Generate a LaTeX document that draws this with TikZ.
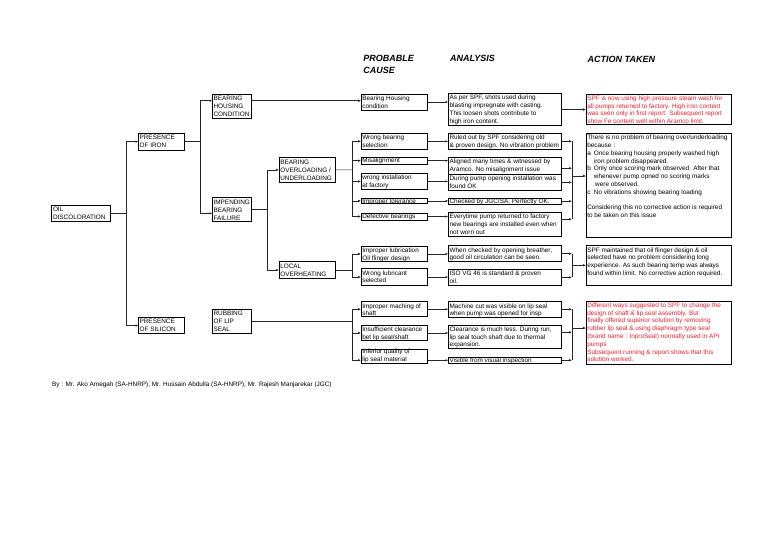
\documentclass[tikz,border=0pt]{standalone}
\usepackage{fontspec}
\setmainfont{Liberation Sans}
\usetikzlibrary{arrows.meta}
\definecolor{redtxt}{RGB}{236,30,45}
\tikzset{
  boxst/.style={draw=black, line width=0.8pt, inner sep=0pt, outer sep=0pt},
  txtst/.style={inner sep=0pt, outer sep=0pt, align=left, anchor=north west,
    font=\fontsize{6.4}{7.8}\selectfont},
  treetxt/.style={font=\fontsize{6.4}{8.1}\selectfont},
  thin/.style={yshift=0.8pt},
  conn/.style={line width=0.7pt, draw=black!85},
  arr/.style={conn, -{Latex[length=2.8pt,width=2.4pt]}},
  head/.style={inner sep=0pt, outer sep=0pt, align=left,
    font=\fontsize{9}{12.4}\selectfont\bfseries\itshape},
}
\newcommand\fst{\rule{0pt}{5pt}}
% #1 text options, #2 name, #3 x1, #4 y1, #5 x2, #6 y2, #7 text
\newcommand\bx[7][]{%
  \node[boxst, minimum width={#5-#3}, minimum height={#6-#4}, anchor=north west] (#2) at (#3,-#4) {};
  \node[txtst,#1] (#2t) at ([xshift=1.3pt,yshift=-1.3pt]#2.north west) {\fst#7};
}
\begin{document}
\begin{tikzpicture}[x=1pt,y=1pt]
\useasboundingbox (0,0) rectangle (768,-543);

% headers
\node[head, anchor=north west] (hcause) at (363.3,-55.3) {PROBABLE\\CAUSE};
\node[head, anchor=base west] (hanal) at (450,-61.8) {ANALYSIS};
\node[head, anchor=base west] (hact) at (587.7,-62.3) {ACTION TAKEN};

% tree boxes
\bx[treetxt]{oil}{51.7}{205}{110}{221.3}{OIL\\DISCOLORATION}
\bx[treetxt]{iron}{138.3}{133.3}{184.3}{150}{PRESENCE\\OF IRON}
\bx[treetxt]{housing}{212.3}{94}{251.7}{118.7}{BEARING\\HOUSING\\CONDITION}
\bx[treetxt]{impend}{212.3}{197.7}{251.7}{221.7}{IMPENDING\\BEARING\\FAILURE}
\bx[treetxt]{overl}{279}{157.7}{335.7}{182}{BEARING\\OVERLOADING /\\UNDERLOADING}
\bx[treetxt]{lovh}{279}{261.7}{335.7}{278.3}{LOCAL\\OVERHEATING}
\bx[treetxt]{silicon}{138.3}{317.3}{184.3}{333.7}{PRESENCE\\OF SILICON}
\bx[treetxt]{rubbing}{212.3}{309.3}{251.7}{333.7}{RUBBING\\OF LIP\\SEAL}

% probable causes
\bx{c1}{361}{94}{427.7}{110}{Bearing Housing\\condition}
\bx{c2}{361}{133.5}{427.7}{149.2}{Wrong bearing\\selection}
\bx[thin]{c3}{361}{157.3}{427.7}{164}{Misalignment}
\bx{c4}{361}{173.3}{427.7}{189.5}{wrong installation\\at factory}
\bx[thin]{c5}{361}{198}{427.7}{203.8}{Improper tolerance}
\bx[thin]{c6}{361}{213}{427.7}{220}{Defective bearings}
\bx{c7}{361}{246}{427.7}{261.8}{Improper lubrication\\Oil flinger design}
\bx{c8}{361}{268.8}{427.7}{285.3}{Wrong lubricant\\selected}
\bx{c9}{361}{301.7}{427.7}{316.8}{Improper maching of\\shaft}
\bx{c10}{361}{325.6}{427.7}{340.3}{Insufficient clearance\\bet lip seal/shaft}
\bx[yshift=1.8pt]{c11}{361}{349.3}{427.7}{363.5}{Inferior quality of\\lip seal material}

% analysis
\bx{a1}{448.3}{93.5}{561.5}{125.7}{As per SPF, shots used during\\blasting impregnate with casting.\\This loosen shots contribute to\\high iron content.}
\bx{a2}{448.3}{133.3}{561.5}{149.3}{Ruled out by SPF considering old\\\& proven design. No vibration problem}
\bx{a3}{448.3}{157.5}{561.5}{174}{Aligned many times \& witnessed by\\Aramco. No misalignment issue}
\bx{a4}{448.3}{174.3}{561.5}{190.5}{During pump opening installation was\\found OK}
\bx[thin]{a5}{448.3}{198}{561.5}{204.5}{Checked by JGC/SA. Perfectly OK.}
\bx{a6}{448.3}{212.5}{561.5}{236.7}{Everytime pump returned to factory\\new bearings are installed even when\\not worn out}
\bx{a7}{448.3}{245.7}{561.5}{261.7}{When checked by opening breather,\\good oil circulation can be seen.}
\bx{a8}{448.3}{269}{561.5}{285.7}{ISO VG 46 is standard \& proven\\oil.}
\bx{a9}{448.3}{301.7}{561.5}{317}{Machine cut was visible on lip seal\\when pump was opened for insp}
\bx{a10}{448.3}{325}{561.5}{348.3}{Clearance is much less. During run,\\lip seal touch shaft due to thermal\\expansion.}
\bx[thin]{a11}{448.3}{357}{561.5}{363.5}{Visible from visual inspection}

% actions
\bx[text=redtxt]{act1}{586}{94}{731.5}{124.3}{SPF is now using high pressure steam wash for\\all pumps returned to factory. High iron content\\was seen only in first report. Subsequent report\\show Fe content well within Aramco limit.}
\bx{act2}{586}{133.3}{731.5}{237.3}{There is no problem of bearing over/underloading\\because :\\\makebox[6.6pt][l]{a}Once bearing housing properly washed high\\\hspace*{6.6pt}iron problem disappeared.\\\makebox[6.6pt][l]{b}Only once scoring mark observed. After that\\\hspace*{6.6pt}whenever pump opned no scoring marks\\\hspace*{7.9pt}were observed.\\\makebox[6.6pt][l]{c}No vibrations showing bearing loading\\[7.8pt]Considering this no corrective action is required\\to be taken on this issue}
\bx{act3}{586}{245.7}{731.5}{285}{SPF maintained that oil flinger design \& oil\\selected have no problem considering long\\experience. As such bearing temp was always\\found within limit. No corrective action required.}
\bx[text=redtxt]{act4}{586}{301}{731.5}{364.3}{Different ways suggested to SPF to change the\\design of shaft \& lip seal assembly. But\\finally offered superior solution by removing\\rubber lip seal \& using diaphragm type seal\\(brand name : InproSeal) normally used in API\\pumps\\Subsequent running \& report shows that this\\solution worked.}

% credit
\node[inner sep=0pt, anchor=base west, font=\fontsize{6.4}{7.8}\selectfont] (credit) at (52,-386) {By : Mr. Ako Amegah (SA-HNRP), Mr. Hussain Abdulla (SA-HNRP), Mr. Rajesh Manjarekar (JGC)};

% ---- left tree connectors
\coordinate (j1) at (126.7,-213.15);
\draw[conn] (oil.east) -- (j1);
\draw[arr] (j1) |- (iron.west);
\draw[arr] (j1) |- (silicon.west);

\coordinate (j2) at (200,-141.65);
\draw[conn] (iron.east) -- (j2);
\coordinate (hh) at ([yshift=5.6pt]housing.east);
\coordinate (hi) at ([yshift=-3.6pt]impend.west);
\draw[arr] (j2) |- (hh -| housing.west);
\draw[arr] (j2) |- (hi);

\coordinate (j3) at (267.7,-209.7);
\draw[conn] (impend.east) -- (j3);
\draw[arr] (j3) |- (overl.west);
\draw[arr] (j3) |- (lovh.west);

\draw[arr] (hh) -- (hh -| c1.west);

\coordinate (j4) at (352.3,-169.85);
\draw[conn] (overl.east) -- (j4);
\foreach \n in {c2,c3,c4,c5,c6} \draw[arr] (j4) |- (\n.west);

\coordinate (j5) at (352.3,-270);
\draw[conn] (lovh.east) -- (j5);
\draw[arr] (j5) |- (c7.west);
\draw[arr] (j5) |- (c8.west);

\coordinate (j6) at (352.3,-321.5);
\draw[conn] (rubbing.east) -- (j6);
\draw[arr] (j6) |- (c9.west);
\draw[arr] (j6) |- (c10.west);
\draw[arr] (j6) |- (c11.west |- a11.west);

% ---- cause -> analysis
\foreach \i in {1,...,10} \draw[arr] (c\i.east) -- (c\i.east -| a\i.west);
\draw[arr] (c11.east |- a11.west) -- (a11.west);

% ---- analysis -> action
\draw[arr] (a1.east) -- (a1.east -| act1.west);

\coordinate (k1) at (572,-141.3);
\coordinate (p3) at ([yshift=-2.5pt]a3.east);
\coordinate (p6) at ([yshift=5.3pt]a6.east);
\coordinate (q2) at ([yshift=9.3pt]act2.west);
\draw[conn] (a2.east -| k1) -- (p6 -| k1);
\draw[arr] (a2.east) -- (a2.east -| k1);
\draw[arr] (p3) -- (p3 -| k1);
\draw[arr] (a4.east) -- (a4.east -| k1);
\draw[arr] (a5.east) -- (a5.east -| k1);
\draw[arr] (p6) -- (p6 -| k1);
\draw[arr] (q2 -| k1) -- (q2);

\draw[conn] (a7.east -| k1) -- (a8.east -| k1);
\draw[arr] (a7.east) -- (a7.east -| k1);
\draw[arr] (a8.east) -- (a8.east -| k1);
\draw[arr] (act3.west -| k1) -- (act3.west);

\coordinate (p10) at ([yshift=4.3pt]a10.east);
\coordinate (q4) at ([yshift=4.6pt]act4.west);
\draw[conn] (a9.east -| k1) -- (a11.east -| k1);
\draw[arr] (a9.east) -- (a9.east -| k1);
\draw[arr] (p10) -- (p10 -| k1);
\draw[arr] (a11.east) -- (a11.east -| k1);
\draw[arr] (q4 -| k1) -- (q4);
\end{tikzpicture}
\end{document}
